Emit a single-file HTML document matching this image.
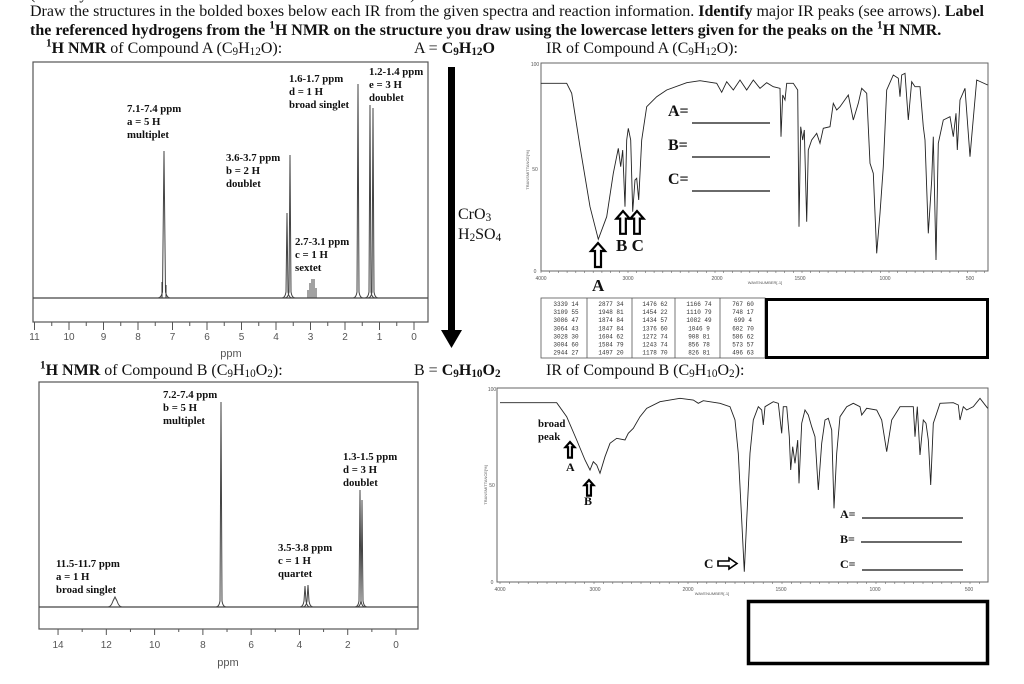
<!DOCTYPE html>
<html><head><meta charset="utf-8"><style>
body{margin:0;width:1024px;height:684px;background:#fff;overflow:hidden;position:relative;font-family:"Liberation Serif",serif;color:#111}
.t{position:absolute;white-space:nowrap}
.h{font-size:16px}
.l{font-size:10.8px;font-weight:bold;line-height:12.8px}
sub{font-size:70%;vertical-align:-2px;line-height:0}
sup{font-size:70%;line-height:0}
</style></head><body>
<div class="t h" style="left:30px;top:-14px">(Use any of the identified features and reaction information)</div>
<div class="t h" style="left:30px;top:3px">Draw the structures in the bolded boxes below each IR from the given spectra and reaction information. <b>Identify</b> major IR peaks (see arrows). <b>Label</b></div>
<div class="t h" style="left:30px;top:22px;font-weight:bold">the referenced hydrogens from the <sup>1</sup>H NMR on the structure you draw using the lowercase letters given for the peaks on the <sup>1</sup>H NMR.</div>
<div class="t h" style="left:46px;top:40px"><b><sup>1</sup>H NMR</b> of Compound A (C<sub>9</sub>H<sub>12</sub>O):</div>
<div class="t h" style="left:414px;top:40px">A = <b>C<sub>9</sub>H<sub>12</sub>O</b></div>
<div class="t h" style="left:546px;top:40px">IR of Compound A (C<sub>9</sub>H<sub>12</sub>O):</div>
<div class="t h" style="left:40px;top:362px"><b><sup>1</sup>H NMR</b> of Compound B (C<sub>9</sub>H<sub>10</sub>O<sub>2</sub>):</div>
<div class="t h" style="left:414px;top:362px">B = <b>C<sub>9</sub>H<sub>10</sub>O<sub>2</sub></b></div>
<div class="t h" style="left:546px;top:362px">IR of Compound B (C<sub>9</sub>H<sub>10</sub>O<sub>2</sub>):</div>
<div class="t h" style="left:458px;top:206px">CrO<sub>3</sub></div>
<div class="t h" style="left:458px;top:226px">H<sub>2</sub>SO<sub>4</sub></div>

<div class="t l" style="left:127px;top:103px">7.1-7.4 ppm<br>a = 5 H<br>multiplet</div>
<div class="t l" style="left:226px;top:152px">3.6-3.7 ppm<br>b = 2 H<br>doublet</div>
<div class="t l" style="left:295px;top:236px">2.7-3.1 ppm<br>c = 1 H<br>sextet</div>
<div class="t l" style="left:289px;top:73px">1.6-1.7 ppm<br>d = 1 H<br>broad singlet</div>
<div class="t l" style="left:369px;top:66px">1.2-1.4 ppm<br>e = 3 H<br>doublet</div>

<div class="t l" style="left:163px;top:389px">7.2-7.4 ppm<br>b = 5 H<br>multiplet</div>
<div class="t l" style="left:343px;top:451px">1.3-1.5 ppm<br>d = 3 H<br>doublet</div>
<div class="t l" style="left:278px;top:542px">3.5-3.8 ppm<br>c = 1 H<br>quartet</div>
<div class="t l" style="left:56px;top:558px">11.5-11.7 ppm<br>a = 1 H<br>broad singlet</div>
<div class="t l" style="left:538px;top:418px">broad<br>peak</div>

<div class="t h" style="left:668px;top:103px;font-weight:bold">A=</div>
<div class="t h" style="left:668px;top:137px;font-weight:bold">B=</div>
<div class="t h" style="left:668px;top:171px;font-weight:bold">C=</div>
<div class="t h" style="left:592px;top:276px;font-weight:bold;font-size:17px">A</div>
<div class="t h" style="left:616px;top:236px;font-weight:bold;font-size:17px">B C</div>
<div class="t l" style="left:566px;top:461px;font-size:12px">A</div>
<div class="t l" style="left:584px;top:495px;font-size:12px">B</div>
<div class="t h" style="left:704px;top:556px;font-weight:bold;font-size:13px">C</div>
<div class="t h" style="left:840px;top:507px;font-weight:bold;font-size:12px">A=</div>
<div class="t h" style="left:840px;top:532px;font-weight:bold;font-size:12px">B=</div>
<div class="t h" style="left:840px;top:557px;font-weight:bold;font-size:12px">C=</div>

<svg id="s" width="1024" height="684" style="position:absolute;left:0;top:0" xmlns="http://www.w3.org/2000/svg"></svg>
<script>
const s=document.getElementById('s');let h='';
const L=(x1,y1,x2,y2,w,c)=>h+=`<line x1="${x1}" y1="${y1}" x2="${x2}" y2="${y2}" stroke="${c||'#333'}" stroke-width="${w||1}"/>`;
const T=(x,y,t,sz,an)=>h+=`<text x="${x}" y="${y}" font-family="Liberation Sans,sans-serif" font-size="${sz||10}" fill="#555" text-anchor="${an||'middle'}">${t}</text>`;
const R=(x,y,w,ht,sw,c)=>h+=`<rect x="${x}" y="${y}" width="${w}" height="${ht}" fill="none" stroke="${c||'#555'}" stroke-width="${sw||1}"/>`;
R(33,62,395,260,1.2);
L(33,298,428,298,1.2,'#444');
for(let p=11;p>=0;p-=0.5){let x=414-34.5*p;L(x,322,x,p%1?326:330,1,'#555');if(p%1==0)T(x,340,p,10);}
T(231,357,'ppm',11);
L(33,322,428,322,1,'#555');
function pk(x,top,base,w){h+=`<path d="M${x-w-3},${base} Q${x-w},${base} ${x-w/2},${base-6} L${x},${top} L${x+w/2},${base-6} Q${x+w},${base} ${x+w+3},${base}" fill="none" stroke="#444" stroke-width="1"/>`;}
pk(164,151,298,3);L(162,282,162,298);L(166,285,166,298);
pk(287,213,298,2);pk(290,155,298,2);
[308,310,312,314,316].forEach((x,i)=>L(x,298,x,[290,283,279,279,288][i],1,'#444'));
pk(358,84,298,2);pk(370,105,298,2);pk(373,108,298,2);
h+=`<rect x="448" y="67" width="7" height="263" fill="#000"/><polygon points="441,330 462,330 451.5,348" fill="#000"/>`;
R(39,382,379,247,1.2);
L(39,607,418,607,1.2,'#444');
for(let p=14;p>=0;p-=1){let x=396-24.14*p;L(x,629,x,p%2?632:635,1,'#555');if(p%2==0)T(x,648,p,10);}
T(228,666,'ppm',11);
L(39,629,418,629,1,'#555');
pk(115,597,607,4);pk(221,402,607,2);pk(305,586,607,2);pk(308,585,607,2);
pk(360,490,607,2);pk(362,500,607,2);
function ir(pts,ox,oy){let d='';pts.forEach((p,i)=>{d+=(i?'L':'M')+(p[0]/3+ox).toFixed(1)+','+(p[1]/3+oy).toFixed(1)});h+=`<path d="${d}" fill="none" stroke="#222" stroke-width="0.9"/>`;}
R(541,63,447,208,1,'#666');
T(535,66,'100',5);T(535,171,'50',5);T(535,273,'0',5);
[[541,'4000'],[628,'3000'],[717,'2000'],[800,'1500'],[885,'1000'],[970,'500']].forEach(a=>T(a[0],280,a[1],5));
T(765,284,'WAVENUMBER[-1]',4);
for(let x=541;x<988;x+=8.7)L(x,271,x,273,0.6,'#666');
h+=`<text x="529" y="170" font-size="4" fill="#555" transform="rotate(-90 529 170)" text-anchor="middle" font-family="Liberation Sans">TRANSMITTANCE[%]</text>`;
ir([[122,130],[200,130],[215,160],[240,320],[270,500],[295,598],[320,530],[340,400],[355,325],[362,380],[368,330],[375,500],[380,300],[385,265],[392,300],[398,515],[405,420],[410,415],[416,480],[425,300],[440,200],[470,170],[500,150],[560,128],[600,122],[650,130],[665,157],[680,125],[700,150],[720,120],[740,150],[760,120],[780,145],[800,128],[820,140],[840,145],[843,290],[848,165],[855,180],[860,130],[880,130],[893,150],[897,560],[902,260],[908,300],[913,270],[920,545],[925,330],[935,300],[950,280],[960,310],[970,265],[990,260],[1000,190],[1010,210],[1020,200],[1045,165],[1060,240],[1075,190],[1085,145],[1100,160],[1110,370],[1120,400],[1130,640],[1140,520],[1150,380],[1160,150],[1180,105],[1195,115],[1200,170],[1205,105],[1215,100],[1225,240],[1235,125],[1245,140],[1260,140],[1270,260],[1275,300],[1285,580],[1295,420],[1300,290],[1308,660],[1315,310],[1330,240],[1350,230],[1360,290],[1368,220],[1372,330],[1380,180],[1395,145],[1410,350],[1415,290],[1430,120],[1463,135]],500,40);
L(692,123,770,123,1.2,'#111');L(692,157,770,157,1.2,'#111');L(692,191,770,191,1.2,'#111');
function ua(x,y,sc){sc=sc||1;const w=3*sc,W=7*sc,hh=8*sc,H=24*sc;h+=`<path d="M${x-w},${y+H} V${y+hh} H${x-W} L${x},${y} L${x+W},${y+hh} H${x+w} V${y+H} Z" fill="#fff" stroke="#000" stroke-width="2.2"/>`;}
ua(598,243);ua(623,211,0.95);ua(637,211,0.95);
R(541,298,224,60,0.8,'#555');[587,632,675,720].forEach(x=>L(x,298,x,358,0.8,'#555'));
const rows=[["3339 14","2877 34","1476 62","1166 74","767 60"],["3109 55","1948 81","1454 22","1110 79","748 17"],["3086 47","1874 84","1434 57","1082 49","699 4"],["3064 43","1847 84","1376 60","1046 9","602 70"],["3028 30","1604 62","1272 74","908 81","586 62"],["3004 60","1584 79","1243 74","856 78","573 57"],["2944 27","1497 20","1178 70","826 81","496 63"]];
rows.forEach((r,i)=>r.forEach((c,j)=>{h+=`<text x="${[566,611,655,699,743][j]}" y="${306+i*8.1}" font-family="Liberation Mono" font-size="6" fill="#333" text-anchor="middle">${c}</text>`}));
R(766.5,299.5,221,58,3,'#000');
R(497,388,491,194,1,'#666');
T(492,391,'100',5);T(492,487,'50',5);T(492,584,'0',5);
[[500,'4000'],[595,'3000'],[688,'2000'],[781,'1500'],[875,'1000'],[969,'500']].forEach(a=>T(a[0],591,a[1],5));
T(712,595,'WAVENUMBER[-1]',4);
for(let x=500;x<988;x+=9.4)L(x,582,x,584,0.6,'#666');
h+=`<text x="487" y="485" font-size="4" fill="#555" transform="rotate(-90 487 485)" text-anchor="middle" font-family="Liberation Sans">TRANSMITTANCE[%]</text>`;
ir([[0,98],[170,98],[200,140],[230,210],[255,270],[270,300],[280,275],[290,285],[300,310],[315,260],[330,220],[350,205],[375,210],[385,190],[400,175],[420,140],[440,115],[480,95],[540,85],[580,90],[595,100],[610,92],[660,100],[690,110],[705,150],[715,250],[725,450],[733,605],[740,450],[750,250],[760,150],[775,110],[785,120],[790,165],[795,110],[820,95],[835,100],[845,190],[850,110],[860,110],[868,200],[872,300],[878,230],[885,280],[893,210],[897,340],[905,160],[915,120],[925,135],[935,170],[945,200],[955,360],[965,220],[975,150],[985,145],[995,180],[1002,415],[1010,250],[1020,140],[1040,110],[1060,100],[1080,110],[1085,135],[1100,115],[1130,120],[1145,150],[1160,245],[1175,150],[1200,110],[1240,110],[1245,200],[1252,110],[1260,255],[1270,150],[1278,160],[1285,210],[1292,345],[1300,160],[1320,100],[1360,98],[1375,105],[1380,150],[1390,110],[1400,120],[1420,110],[1440,85],[1463,115]],500,370);
ua(570,442,0.65);ua(589,480,0.65);
h+=`<path d="M718,561 H729 V558 L737,563.5 L729,569 V566 H718 Z" fill="#fff" stroke="#000" stroke-width="1.6"/>`;
L(862,518,963,518,1.2,'#111');L(861,542,962,542,1.2,'#111');L(862,570,963,570,1.2,'#111');
R(748.5,601.5,239,62,3.5,'#000');
s.innerHTML=h;
</script>
</body></html>
